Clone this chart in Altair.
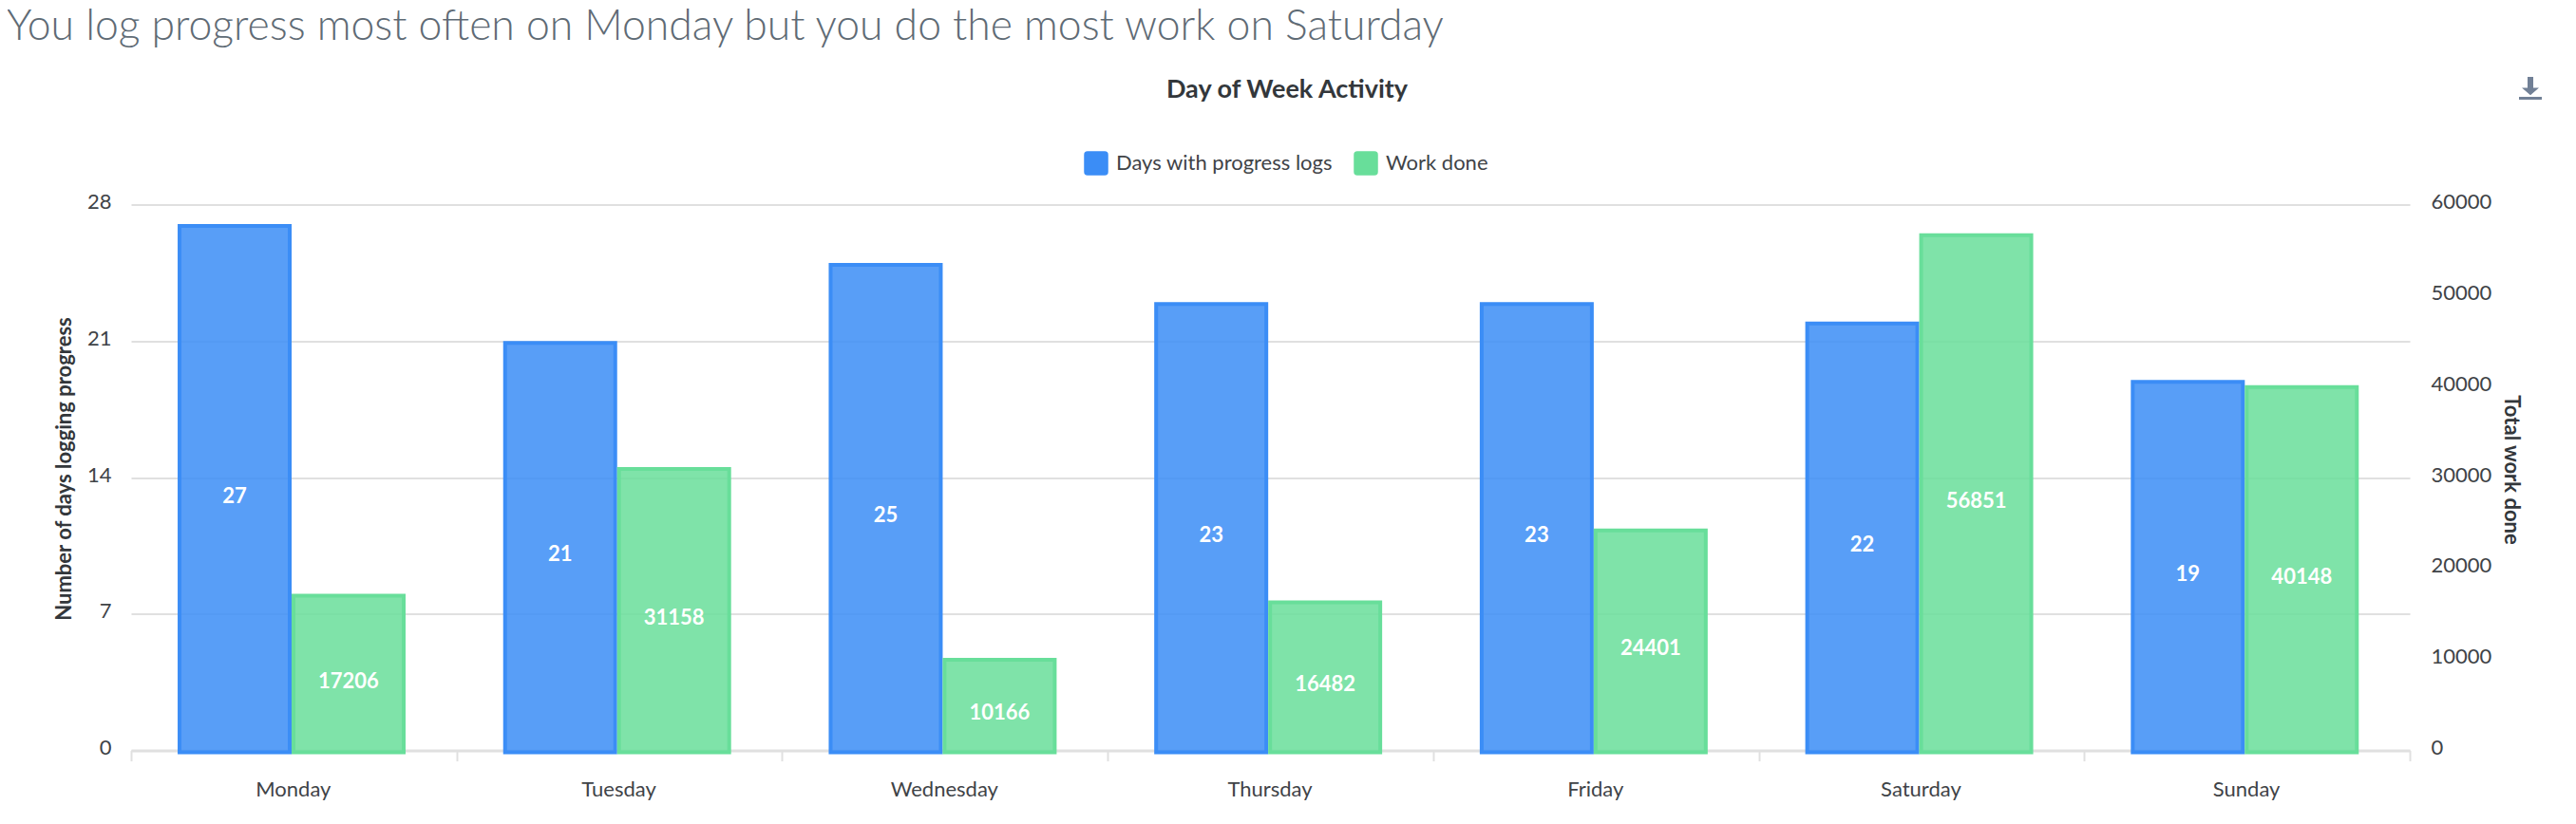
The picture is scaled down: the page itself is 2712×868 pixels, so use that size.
# %% package import
import altair as al
import pandas as pd

# %% values
days = ["Monday", "Tuesday", "Wednesday", "Thursday", "Friday", "Saturday", "Sunday"]
log_days = [27, 21, 25, 23, 23, 22, 19]
work_done = [17206, 31158, 10166, 16482, 24401, 56851, 40148]
series = ["Days with progress logs", "Work done"]
left_ticks = [0, 7, 14, 21, 28]
right_ticks = [0, 10000, 20000, 30000, 40000, 50000, 60000]

headline = "You log progress most often on Monday but you do the most work on Saturday"
chart_title = "Day of Week Activity"

font = "Lato"
label_color = "#3f4347"
grid_color = "#e0e0e0"

# %%
dat = pd.DataFrame({"day": days, "logs": log_days, "work": work_done})
dat["s_logs"] = series[0]
dat["s_work"] = series[1]

x = al.X(
    "day:N",
    sort=days,
    title=None,
    scale=al.Scale(paddingInner=0, paddingOuter=0),
    axis=al.Axis(
        tickBand="extent",
        tickSize=11,
        tickWidth=2,
        tickColor=grid_color,
        domainColor=grid_color,
        domainWidth=3,
        labelAngle=0,
        labelPadding=20,
        labelOffset=-1,
        labelFontSize=22,
        labelFont=font,
        labelColor=label_color,
        grid=False,
    ),
)
color_scale = al.Scale(domain=series, range=["#3b8df6", "#68de9a"])
offset_scale = al.Scale(domain=series, paddingInner=0.033, paddingOuter=0.445, align=0.478)

y_scales = {
    "logs": al.Scale(domain=[0, 28], nice=False),
    "work": al.Scale(domain=[0, 60000], nice=False),
}
y_axes = {
    "logs": al.Axis(
        orient="left",
        values=left_ticks,
        format="d",
        title="Number of days logging progress",
        titleFont=font,
        titleFontSize=22,
        titleFontWeight="bold",
        titleColor="#33373b",
        titleX=-59,
        titleY=278,
        labelFont=font,
        labelFontSize=22,
        labelColor=label_color,
        labelPadding=21,
        labelOffset=-3,
        ticks=False,
        domain=False,
        grid=True,
        gridColor=grid_color,
        gridWidth=2,
    ),
    "work": al.Axis(
        orient="right",
        values=right_ticks,
        format="d",
        title="Total work done",
        titleFont=font,
        titleFontSize=22,
        titleFontWeight="bold",
        titleColor="#33373b",
        titleX=94,
        titleY=279,
        labelFont=font,
        labelFontSize=22,
        labelColor=label_color,
        labelPadding=22,
        labelOffset=-3,
        ticks=False,
        domain=False,
        grid=False,
    ),
}


def bars(col, name):
    return (
        al.Chart(dat)
        .mark_bar(fillOpacity=0.85, strokeWidth=4, yOffset=2, y2Offset=-2)
        .encode(
            x=x,
            xOffset=al.XOffset(f"{name}:N", scale=offset_scale, sort=series),
            y=al.Y(f"{col}:Q", scale=y_scales[col], axis=y_axes[col]),
            color=al.Color(
                f"{name}:N",
                scale=color_scale,
                legend=al.Legend(
                    title=None,
                    orient="none",
                    legendX=1003,
                    legendY=-56.5,
                    direction="horizontal",
                    symbolType="M-1,-0.75 Q-1,-1 -0.75,-1 L0.75,-1 Q1,-1 1,-0.75 L1,0.75 Q1,1 0.75,1 L-0.75,1 Q-1,1 -1,0.75 Z",
                    symbolSize=576,
                    symbolOpacity=1,
                    labelFont=font,
                    labelFontSize=22,
                    labelColor=label_color,
                    labelLimit=400,
                    labelOffset=8,
                    columnPadding=20,
                ),
            ),
            stroke=al.Color(f"{name}:N", scale=color_scale, legend=None),
        )
    )


def bar_labels(col, name):
    return (
        al.Chart(dat)
        .transform_calculate(mid=f"datum.{col} / 2")
        .mark_text(color="white", fontWeight="bold", font=font, fontSize=22, dy=9.5)
        .encode(
            x=x,
            xOffset=al.XOffset(f"{name}:N", scale=offset_scale, sort=series),
            y=al.Y("mid:Q", scale=y_scales[col], axis=y_axes[col]),
            text=f"{col}:Q",
        )
    )


left = al.layer(bars("logs", "s_logs"), bar_labels("logs", "s_logs"))
right = al.layer(bars("work", "s_work"), bar_labels("work", "s_work"))

# centred bold title, sits over the legend
title_mark = (
    al.Chart(pd.DataFrame({"t": [chart_title]}))
    .mark_text(font=font, fontSize=27, fontWeight="bold", color="#33373b")
    .encode(x=al.value(1217), y=al.value(-120.5), text="t:N")
)

# download icon in the corner
icon_mark = (
    al.Chart(pd.DataFrame({"t": ["download"]}))
    .mark_point(
        shape="M-0.25,-1 L0.25,-1 L0.25,-0.05 L0.75,-0.05 L0,0.6 L-0.75,-0.05 L-0.25,-0.05 Z M-1,0.75 L1,0.75 L1,1 L-1,1 Z",
        filled=True,
        opacity=1,
        color="#718096",
        size=576,
    )
    .encode(x=al.value(2526), y=al.value(-122.5))
)

chart = (
    al.layer(left, right, title_mark, icon_mark)
    .resolve_scale(y="independent", color="shared", stroke="shared")
    .properties(
        width=2399,
        height=575,
        padding={"left": 130, "top": 207.5, "right": 167, "bottom": 69.5},
        autosize=al.AutoSizeParams(type="none"),
        title=al.TitleParams(
            headline,
            anchor="start",
            frame="group",
            font=font,
            fontSize=44.5,
            fontWeight=300,
            color="#5f6b75",
            dx=-131,
            offset=30,
        ),
    )
    .configure_view(stroke=None)
)

chart.save("out.html", embed_options={"renderer": "svg", "actions": False})
